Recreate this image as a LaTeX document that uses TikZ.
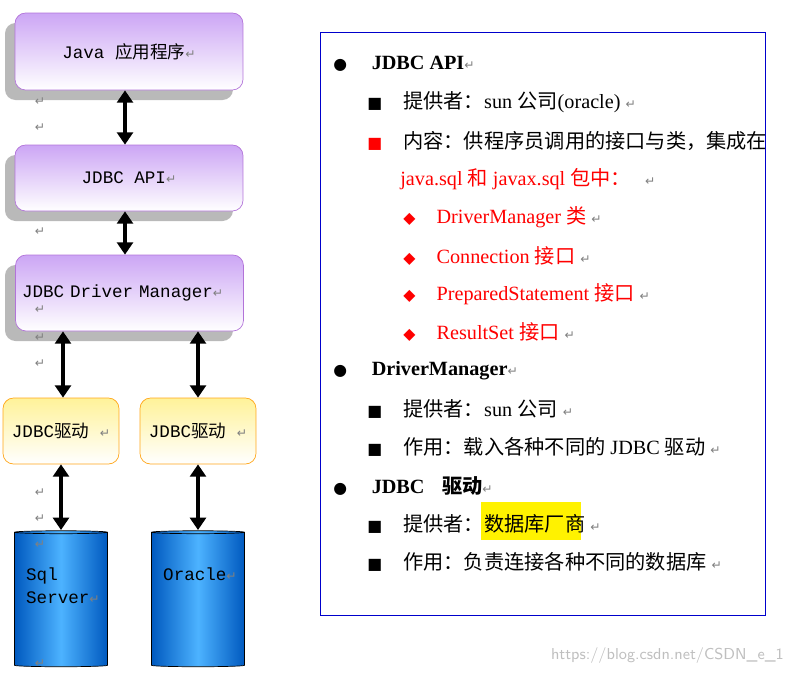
\documentclass[tikz,border=0pt]{standalone}
\usepackage{fontspec}
\setmainfont{Liberation Serif}
\newfontfamily\cjk{Noto Sans CJK SC}
\newfontfamily\mono{Liberation Mono}
\newfontfamily\sym{DejaVu Sans}
\usetikzlibrary{arrows.meta,shapes.geometric}
\definecolor{boxpurple}{rgb}{0.80, 0.65, 0.96}
\definecolor{edgepurple}{rgb}{0.70, 0.45, 0.85}
\definecolor{boxyellow}{rgb}{1.00, 0.95, 0.60}
\definecolor{edgeorange}{rgb}{1.00, 0.65, 0.10}
\definecolor{darkblue}{rgb}{0.00, 0.35, 0.75}
\definecolor{lightblue}{rgb}{0.30, 0.70, 1.00}
\newcommand{\zh}[1]{{\cjk #1}}
\newcommand{\ret}{{\sym\color{gray}\scriptsize ↵}}
\begin{document}
\begin{tikzpicture}[
        x=0.02cm, y=-0.02cm,
        >={Triangle[length=7pt,width=9pt]},
        layer/.style={draw=edgepurple, rounded corners=6pt, top color=boxpurple,
            bottom color=white, minimum width=4.56cm, font={\mono\fontsize{10}{12}\selectfont}},
        shadow/.style={fill=gray!55, rounded corners=6pt},
        driver/.style={draw=edgeorange, rounded corners=6pt, top color=boxyellow,
            bottom color=white, minimum width=2.32cm, minimum height=1.32cm,
            font={\mono\fontsize{10}{12}\selectfont}},
        dbase/.style={cylinder, shape border rotate=90, aspect=0.25, draw=black,
            minimum width=1.86cm, minimum height=2.72cm, left color=darkblue,
            right color=darkblue, middle color=lightblue},
        link/.style={<->, line width=2.2pt},
        item/.style={anchor=west, font={\fontsize{11.5}{14}\selectfont}, inner sep=0pt}
    ]
    \useasboundingbox (0,0) rectangle (793,674);

    %left column
    \fill[shadow] (5,23) rectangle (233,100);
    \node[layer, minimum height=1.54cm] (app) at (129,51.5) {Java \zh{应用程序}\ret};
    \fill[shadow] (5,155) rectangle (233,221);
    \node[layer, minimum height=1.32cm] (api) at (129,178) {JDBC API\ret};
    \fill[shadow] (5,265) rectangle (233,341);
    \node[layer, minimum height=1.52cm, text width=4.3cm] (mgr) at (129.5,293) {JDBC Driver Manager\ret};
    \node[driver] (drvA) at (61,431) {JDBC\zh{驱动} \ret};
    \node[driver] (drvB) at (198,431) {JDBC\zh{驱动} \ret};
    \node[dbase] (sql) at (61,600) {};
    \node[dbase] (ora) at (198,600) {};
    \coordinate (sqltop) at (61,530);
    \coordinate (oratop) at (198,530);
    \node[anchor=north west, align=left, font={\mono\fontsize{10}{13}\selectfont}] (sqltext)
        at (20,562) {Sql\\Server\ret};
    \node[anchor=north west, font={\mono\fontsize{10}{13}\selectfont}] (oratext)
        at (157,562) {Oracle\ret};

    \draw[link] (app.south -| 125,0) -- (api.north -| 125,0);
    \draw[link] (api.south -| 125,0) -- (mgr.north -| 125,0);
    \draw[link] (mgr.south -| 63,0) -- (drvA.north -| 63,0);
    \draw[link] (mgr.south -| drvB) -- (drvB.north);
    \draw[link] (drvA.south) -- (sqltop);
    \draw[link] (drvB.south) -- (oratop);

    \foreach \y in {102,128,232,310,338,364,493,519,545,664}
        \node at (40,\y) {\ret};

    %right panel
    \draw[blue!80!black] (320,32) rectangle (765,615);
    \node[item] (h1) at (333,64) {{\sym\small ●}\hspace{14pt}\textbf{JDBC API}\ret};
    \node[item] (a1) at (367,102) {{\sym\small ■}\hspace{12pt}\zh{提供者：}sun \zh{公司}(oracle) \ret};
    \node[item] (a2) at (367,141) {{\sym\small\color{red}■}\hspace{12pt}\zh{内容：供程序员调用的接口与类，集成在}};
    \node[item, red] (a3) at (400,179) {java.sql \zh{和} javax.sql \zh{包中：}\hspace{8pt}{\color{black}\ret}};
    \foreach \y/\t in {217/DriverManager \zh{类},256/Connection \zh{接口},
                       294/PreparedStatement \zh{接口},332/ResultSet \zh{接口}}
        \node[item, red] at (403,\y) {{\sym\small ◆}\hspace{12pt}\t\ {\color{black}\ret}};
    \node[item] (h2) at (333,371) {{\sym\small ●}\hspace{14pt}\textbf{DriverManager}\ret};
    \node[item] (b1) at (367,409) {{\sym\small ■}\hspace{12pt}\zh{提供者：}sun \zh{公司} \ret};
    \node[item] (b2) at (367,447) {{\sym\small ■}\hspace{12pt}\zh{作用：载入各种不同的} JDBC \zh{驱动} \ret};
    \node[item] (h3) at (333,486) {{\sym\small ●}\hspace{14pt}\textbf{JDBC\hspace{10pt}\zh{驱动}}\ret};
    \fill[yellow] (481,502) rectangle (581,540);
    \node[item] (c1) at (367,524) {{\sym\small ■}\hspace{12pt}\zh{提供者：数据库厂商} \ret};
    \node[item] (c2) at (367,562) {{\sym\small ■}\hspace{12pt}\zh{作用：负责连接各种不同的数据库} \ret};

    \node[anchor=east, gray!50, font={\sffamily\small}] (mark) at (790,656) {https://blog.csdn.net/CSDN\_e\_1};
\end{tikzpicture}
\end{document}
